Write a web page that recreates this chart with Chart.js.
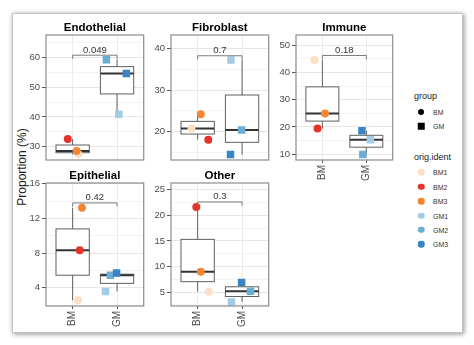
<!DOCTYPE html>
<html>
<head>
<meta charset="utf-8">
<script src="https://cdn.jsdelivr.net/npm/chart.js@4.4.0/dist/chart.umd.min.js"></script>
<style>
  html, body { margin: 0; padding: 0; background: #fff; }
  #page { position: relative; width: 474px; height: 345px; overflow: hidden; font-family: "Liberation Sans", Arial, sans-serif; }
  #card { position: absolute; left: 12px; top: 13px; width: 449px; height: 318px; background: #fff;
          border: 1px solid #c4c4c4; box-shadow: 1px 1px 5px rgba(0,0,0,0.45); }
  canvas { position: absolute; }
  #ylab { position: absolute; left: 22px; top: 167px; transform: translate(-50%, -50%) rotate(-90deg);
          font-size: 12px; white-space: nowrap; color: #1a1a1a; }
  .lg { position: absolute; transform: translateY(-50%); white-space: nowrap; }
  .lg-title { font-size: 9px; color: #1a1a1a; }
  .lg-label { font-size: 7px; color: #333; }
  .sym { position: absolute; transform: translate(-50%, -50%); }
</style>
</head>
<body>
<div id="page">
  <div id="card"></div>
  <div id="ylab">Proportion (%)</div>
  <div id="legend"></div>
</div>
<script>
// samples and their groups
const samples = ['BM1', 'BM2', 'BM3', 'GM1', 'GM2', 'GM3'];
const sampleGroup = ['BM', 'BM', 'BM', 'GM', 'GM', 'GM'];
const groups = ['BM', 'GM'];
const sampleColors = ['#FDDFC3', '#E5322B', '#F58634', '#A3CDE4', '#6AAED6', '#3A84C4'];

// proportion (%) per sample, order as samples
const endothelial = [27.4, 32.6, 28.5, 40.9, 59.3, 54.6];
const fibroblast = [20.8, 18.1, 24.2, 37.3, 20.4, 14.5];
const immune = [44.5, 19.4, 24.9, 15.3, 9.9, 18.6];
const epithelial = [2.56, 8.35, 13.25, 3.58, 5.45, 5.7];
const other = [5.1, 21.6, 9.0, 3.1, 5.2, 6.9];

// horizontal jitter of each point (in category units)
const endothelialJitter = [0.13, -0.11, 0.09, 0.04, -0.24, 0.21];
const fibroblastJitter = [-0.14, 0.24, 0.07, -0.25, -0.01, -0.26];
const immuneJitter = [-0.18, -0.11, 0.06, 0.09, -0.08, -0.10];
const epithelialJitter = [0.12, 0.16, 0.21, -0.26, -0.15, -0.01];
const otherJitter = [0.25, -0.03, 0.07, -0.24, 0.19, -0.01];

// wilcoxon p values and where the bracket sits
const pValues = ['0.049', '0.7', '0.18', '0.42', '0.3'];
const bracketY = [60.8, 38.3, 46.2, 13.8, 22.6];

// y axis breaks
const endothelialBreaks = [30, 40, 50, 60];
const fibroblastBreaks = [20, 30, 40];
const immuneBreaks = [10, 20, 30, 40, 50];
const epithelialBreaks = [4, 8, 12, 16];
const otherBreaks = [5, 10, 15, 20, 25];

const panels = [
  { name: 'Endothelial', values: endothelial, jitter: endothelialJitter, breaks: endothelialBreaks, yMin: 25.5, yMax: 67.6, left: 46, top: 35, w: 103, h: 125, xLabels: false },
  { name: 'Fibroblast', values: fibroblast, jitter: fibroblastJitter, breaks: fibroblastBreaks, yMin: 13.2, yMax: 43.3, left: 171, top: 35, w: 103, h: 125, xLabels: false },
  { name: 'Immune', values: immune, jitter: immuneJitter, breaks: immuneBreaks, yMin: 7.9, yMax: 53.7, left: 296, top: 35, w: 102, h: 125, xLabels: true },
  { name: 'Epithelial', values: epithelial, jitter: epithelialJitter, breaks: epithelialBreaks, yMin: 1.9, yMax: 16.1, left: 46, top: 183, w: 103, h: 123, xLabels: true },
  { name: 'Other', values: other, jitter: otherJitter, breaks: otherBreaks, yMin: 2.3, yMax: 26.3, left: 171, top: 183, w: 103, h: 123, xLabels: true }
];

const Y_AXIS_W = 34, TITLE_H = 24, X_AXIS_H = 28;
const FONT = '"Liberation Sans", Arial, sans-serif';

function quantile(sorted, p) {
  const h = (sorted.length - 1) * p;
  const lo = Math.floor(h);
  const hi = Math.min(lo + 1, sorted.length - 1);
  return sorted[lo] + (h - lo) * (sorted[hi] - sorted[lo]);
}

function boxStats(vals) {
  const s = vals.slice().sort((a, b) => a - b);
  const q1 = quantile(s, 0.25), med = quantile(s, 0.5), q3 = quantile(s, 0.75);
  const iqr = q3 - q1;
  const inside = s.filter(v => v >= q1 - 1.5 * iqr && v <= q3 + 1.5 * iqr);
  return { q1, med, q3, lo: inside[0], hi: inside[inside.length - 1] };
}

function minorBreaks(breaks, min, max) {
  const step = breaks[1] - breaks[0];
  const out = [];
  for (let i = -1; i < breaks.length; i++) {
    const m = (i < 0 ? breaks[0] - step : breaks[i]) + step / 2;
    if (m > min && m < max) out.push(m);
  }
  return out;
}

function decoPlugin(p, idx) {
  return {
    id: 'deco' + idx,
    beforeDatasetsDraw(chart) {
      const { ctx } = chart;
      const xs = chart.scales.x, ys = chart.scales.y;
      groups.forEach((g, gi) => {
        const vals = p.values.filter((v, i) => sampleGroup[i] === g);
        const st = boxStats(vals);
        const cx = xs.getPixelForValue(gi + 1);
        const x0 = xs.getPixelForValue(gi + 1 - 0.375), x1 = xs.getPixelForValue(gi + 1 + 0.375);
        ctx.save();
        ctx.strokeStyle = '#5f5f5f';
        ctx.lineWidth = 1;
        // whiskers
        ctx.beginPath();
        ctx.moveTo(cx, ys.getPixelForValue(st.q3));
        ctx.lineTo(cx, ys.getPixelForValue(st.hi));
        ctx.moveTo(cx, ys.getPixelForValue(st.q1));
        ctx.lineTo(cx, ys.getPixelForValue(st.lo));
        ctx.stroke();
        // box
        const yTop = ys.getPixelForValue(st.q3), yBot = ys.getPixelForValue(st.q1);
        ctx.fillStyle = '#fff';
        ctx.fillRect(x0, yTop, x1 - x0, yBot - yTop);
        ctx.strokeRect(x0, yTop, x1 - x0, yBot - yTop);
        // median
        ctx.strokeStyle = '#333';
        ctx.lineWidth = 2;
        ctx.beginPath();
        const ym = ys.getPixelForValue(st.med);
        ctx.moveTo(x0, ym);
        ctx.lineTo(x1, ym);
        ctx.stroke();
        ctx.restore();
      });
    },
    afterDatasetsDraw(chart) {
      const { ctx, chartArea } = chart;
      const xs = chart.scales.x, ys = chart.scales.y;
      // comparison bracket
      const by = ys.getPixelForValue(bracketY[idx]);
      const tip = 0.03 * (p.yMax - p.yMin);
      const tipPx = ys.getPixelForValue(bracketY[idx] - tip) - by;
      const bx0 = xs.getPixelForValue(1), bx1 = xs.getPixelForValue(2);
      ctx.save();
      ctx.strokeStyle = '#7a7a7a';
      ctx.lineWidth = 1;
      ctx.beginPath();
      ctx.moveTo(bx0, by + tipPx);
      ctx.lineTo(bx0, by);
      ctx.lineTo(bx1, by);
      ctx.lineTo(bx1, by + tipPx);
      ctx.stroke();
      ctx.fillStyle = '#333';
      ctx.font = '9.5px ' + FONT;
      ctx.textAlign = 'center';
      ctx.textBaseline = 'bottom';
      ctx.fillText(pValues[idx], (bx0 + bx1) / 2, by - 0.5);
      // panel border
      ctx.strokeStyle = '#8c8c8c';
      ctx.lineWidth = 1.2;
      ctx.strokeRect(chartArea.left, chartArea.top, chartArea.right - chartArea.left, chartArea.bottom - chartArea.top);
      ctx.restore();
    }
  };
}

const page = document.getElementById('page');

panels.forEach((p, idx) => {
  const canvas = document.createElement('canvas');
  const cw = Y_AXIS_W + p.w, ch = TITLE_H + p.h + X_AXIS_H;
  canvas.width = cw;
  canvas.height = ch;
  canvas.style.left = (p.left - Y_AXIS_W) + 'px';
  canvas.style.top = (p.top - TITLE_H) + 'px';
  canvas.style.width = cw + 'px';
  canvas.style.height = ch + 'px';
  page.appendChild(canvas);

  const minors = minorBreaks(p.breaks, p.yMin, p.yMax);
  const allTicks = p.breaks.concat(minors).sort((a, b) => a - b);
  const isMajor = v => p.breaks.includes(v);

  new Chart(canvas, {
    type: 'scatter',
    data: {
      datasets: [{
        data: p.values.map((v, i) => ({ x: groups.indexOf(sampleGroup[i]) + 1 + p.jitter[i], y: v })),
        pointBackgroundColor: sampleColors,
        pointBorderWidth: 0,
        pointBorderColor: 'rgba(0,0,0,0)',
        pointStyle: sampleGroup.map(g => g === 'BM' ? 'circle' : 'rect'),
        pointRadius: sampleGroup.map(g => g === 'BM' ? 4 : 5.3),
        pointHoverRadius: sampleGroup.map(g => g === 'BM' ? 4 : 5.3)
      }]
    },
    options: {
      responsive: false,
      animation: false,
      events: [],
      layout: { padding: 0 },
      plugins: {
        legend: { display: false },
        tooltip: { enabled: false },
        title: {
          display: true,
          text: p.name,
          fullSize: false,
          color: '#000',
          font: { family: FONT, size: 11.5, weight: 'bold' },
          padding: { top: 9.5, bottom: 0.7 }
        }
      },
      scales: {
        x: {
          type: 'linear',
          min: 0.4,
          max: 2.6,
          afterBuildTicks: s => { s.ticks = [{ value: 1 }, { value: 2 }]; },
          afterFit: s => { s.height = X_AXIS_H; s.paddingLeft = 0; s.paddingRight = 0; },
          ticks: {
            display: p.xLabels,
            autoSkip: false,
            minRotation: 90,
            maxRotation: 90,
            padding: 2,
            color: '#4d4d4d',
            font: { family: FONT, size: 10 },
            callback: v => groups[v - 1]
          },
          grid: { color: '#ebebeb', lineWidth: 1, tickLength: p.xLabels ? 3 : 0, tickColor: '#555' },
          border: { display: false }
        },
        y: {
          type: 'linear',
          min: p.yMin,
          max: p.yMax,
          afterBuildTicks: s => { s.ticks = allTicks.map(v => ({ value: v })); },
          afterFit: s => { s.width = Y_AXIS_W; s.paddingTop = 0; s.paddingBottom = 0; },
          ticks: {
            autoSkip: false,
            padding: 2,
            color: '#4d4d4d',
            font: { family: FONT, size: 9.5 },
            callback: v => isMajor(v) ? String(v) : ''
          },
          grid: {
            lineWidth: 1,
            tickLength: 4,
            color: c => isMajor(c.tick.value) ? '#e6e6e6' : '#f3f3f3',
            tickColor: c => isMajor(c.tick.value) ? '#555' : 'rgba(0,0,0,0)'
          },
          border: { display: false }
        }
      }
    },
    plugins: [decoPlugin(p, idx)]
  });
});

// legend: group shapes, then sample colours
const legend = document.getElementById('legend');
function addText(cls, text, x, y) {
  const d = document.createElement('div');
  d.className = 'lg ' + cls;
  d.textContent = text;
  d.style.left = x + 'px';
  d.style.top = y + 'px';
  legend.appendChild(d);
}
function addSym(x, y, size, color, round) {
  const d = document.createElement('div');
  d.className = 'sym';
  d.style.left = x + 'px';
  d.style.top = y + 'px';
  d.style.width = size + 'px';
  d.style.height = size + 'px';
  d.style.background = color;
  if (round) d.style.borderRadius = '50%';
  legend.appendChild(d);
}
const LX = 414, SX = 421, TX = 433, ROW = 14.4;
addText('lg-title', 'group', LX, 96);
groups.forEach((g, i) => {
  addSym(SX, 112 + i * ROW, g === 'BM' ? 6 : 6.5, '#000', g === 'BM');
  addText('lg-label', g, TX, 112 + i * ROW);
});
addText('lg-title', 'orig.ident', LX, 157);
samples.forEach((s, i) => {
  addSym(SX, 172.3 + i * ROW, 6.5, sampleColors[i], true);
  addText('lg-label', s, TX, 172.3 + i * ROW);
});
</script>
</body>
</html>
